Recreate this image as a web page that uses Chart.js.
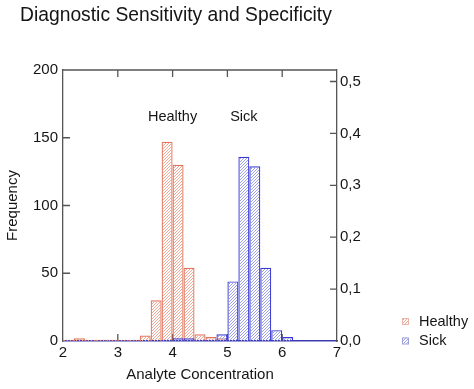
<!DOCTYPE html>
<html>
<head>
<meta charset="utf-8">
<script src="https://cdn.jsdelivr.net/npm/chart.js@4/dist/chart.umd.min.js"></script>
<style>
html,body{margin:0;padding:0;background:#fff;}
#wrap{width:474px;height:389px;position:relative;}
</style>
</head>
<body>
<div id="wrap"><canvas id="c" width="474" height="389"></canvas></div>
<script>
// ---- data ----
const chartTitle = 'Diagnostic Sensitivity and Specificity';
const xTitle = 'Analyte Concentration';
const yTitle = 'Frequency';
const seriesNames = ['Healthy', 'Sick'];
const binCenters = [2.1, 2.3, 2.5, 2.7, 2.9, 3.1, 3.3, 3.5, 3.7, 3.9, 4.1, 4.3, 4.5, 4.7, 4.9,
                    5.1, 5.3, 5.5, 5.7, 5.9, 6.1, 6.3, 6.5, 6.7, 6.9];
const healthy = [1, 2, 1, 1, 1, 1, 1, 4, 30, 147, 130, 54, 5, 3, 2,
                 0, 0, 0, 0, 0, 0, 0, 0, 0, 0];
const sick    = [0, 0, 0, 0, 0, 0, 0, 0, 0, 1, 2, 2, 1, 1, 5,
                 44, 136, 129, 54, 8, 3, 0, 0, 0, 0];
const xTicks = [2, 3, 4, 5, 6, 7];
const yTicks = [0, 50, 100, 150, 200];
const y2Ticks = [0.0, 0.1, 0.2, 0.3, 0.4, 0.5];
const groupLabels = ['Healthy', 'Sick'];
const groupLabelX = [4.0, 5.3];
const groupLabelY = [165, 165];

// ---- styling ----
const FONT = "'Liberation Sans', Arial, sans-serif";
const TXT = '#151515';
const ctx0 = document.getElementById('c').getContext('2d');
function hatch(color) {
  const c = document.createElement('canvas');
  c.width = 3; c.height = 3;
  const g = c.getContext('2d');
  g.strokeStyle = color; g.lineWidth = 1;
  g.beginPath();
  g.moveTo(0, 3); g.lineTo(3, 0);
  g.moveTo(-1, 1); g.lineTo(1, -1);
  g.moveTo(2, 4); g.lineTo(4, 2);
  g.stroke();
  return ctx0.createPattern(c, 'repeat');
}
const colors = {
  Healthy: {border: '#df735c', fill: hatch('#f0a996'), legendBorder: '#eab5a8'},
  Sick:    {border: '#3a3ad2', fill: hatch('#9da1ea'), legendBorder: '#9c9fd8'}
};
const totalHealthy = healthy.reduce((a, b) => a + b, 0);
const yMax = 200;

const toPts = arr => arr.map((v, i) => ({x: binCenters[i], y: v}));

const decor = {
  id: 'decor',
  beforeDatasetsDraw(chart) {
    const {ctx, chartArea: a, scales} = chart;
    const L = 7;
    ctx.save();
    ctx.strokeStyle = '#555';
    ctx.lineWidth = 1.3;
    ctx.beginPath();
    xTicks.forEach(v => {
      if (v <= scales.x.min || v >= scales.x.max) return;
      const p = scales.x.getPixelForValue(v);
      ctx.moveTo(p, a.bottom); ctx.lineTo(p, a.bottom - L);
      ctx.moveTo(p, a.top); ctx.lineTo(p, a.top + L);
    });
    yTicks.forEach(v => {
      if (v <= scales.y.min || v >= scales.y.max) return;
      const p = scales.y.getPixelForValue(v);
      ctx.moveTo(a.left, p); ctx.lineTo(a.left + L, p);
    });
    y2Ticks.forEach(v => {
      if (v <= scales.y2.min) return;
      const p = scales.y2.getPixelForValue(v);
      ctx.moveTo(a.right, p); ctx.lineTo(a.right - L, p);
    });
    ctx.moveTo(a.left, a.top); ctx.lineTo(a.right, a.top);
    ctx.stroke();
    ctx.restore();
  },
  afterDraw(chart) {
    const {ctx, scales} = chart;
    ctx.save();
    ctx.fillStyle = TXT;
    ctx.font = '19.3px ' + FONT;
    ctx.textAlign = 'left';
    ctx.textBaseline = 'alphabetic';
    ctx.fillText(chartTitle, 20, 21);
    ctx.font = '14.5px ' + FONT;
    ctx.textAlign = 'center';
    ctx.textBaseline = 'middle';
    groupLabels.forEach((t, i) => {
      ctx.fillText(t, scales.x.getPixelForValue(groupLabelX[i]), scales.y.getPixelForValue(groupLabelY[i]));
    });
    chart.data.datasets.slice().sort((a, b) => seriesNames.indexOf(a.label) - seriesNames.indexOf(b.label))
      .forEach((ds, i) => {
        const cy = 321 + i * 19.5;
        const col = colors[ds.label];
        ctx.fillStyle = col.fill;
        ctx.fillRect(402, cy - 3, 6, 6);
        ctx.strokeStyle = col.legendBorder;
        ctx.lineWidth = 1;
        ctx.strokeRect(402.5, cy - 2.5, 6, 6);
        ctx.fillStyle = TXT;
        ctx.textAlign = 'left';
        ctx.fillText(ds.label, 419, cy + 0.5);
      });
    ctx.restore();
  }
};

const barCommon = {barPercentage: 1, categoryPercentage: 1, grouped: false, inflateAmount: 0, borderWidth: 1.2};

new Chart(ctx0, {
  type: 'bar',
  data: {
    datasets: [
      Object.assign({label: seriesNames[0], data: toPts(healthy), order: 1,
       backgroundColor: colors.Healthy.fill, borderColor: colors.Healthy.border}, barCommon),
      Object.assign({label: seriesNames[1], data: toPts(sick), order: 0,
       backgroundColor: colors.Sick.fill, borderColor: colors.Sick.border}, barCommon)
    ]
  },
  options: {
    responsive: false,
    animation: false,
    devicePixelRatio: 1,
    layout: {padding: {top: 70, left: 0, right: 0, bottom: 0}},
    plugins: {legend: {display: false}, title: {display: false}, tooltip: {enabled: false}},
    scales: {
      x: {
        type: 'linear', position: 'bottom', min: 2, max: 7, offset: false,
        afterBuildTicks: s => { s.ticks = xTicks.map(v => ({value: v})); },
        ticks: {padding: 3, color: TXT, font: {family: FONT, size: 15}},
        grid: {display: false, drawTicks: false, offset: false},
        border: {color: '#3c3cb0', width: 1.6},
        title: {display: true, text: xTitle, color: TXT, font: {family: FONT, size: 15}, padding: {top: 0, bottom: 5}},
        afterFit: s => { s.height = 48; }
      },
      y: {
        position: 'left', min: 0, max: yMax,
        afterBuildTicks: s => { s.ticks = yTicks.map(v => ({value: v})); },
        ticks: {padding: 5, color: TXT, font: {family: FONT, size: 15}},
        grid: {display: false, drawTicks: false},
        border: {color: '#555', width: 1.3},
        title: {display: true, text: yTitle, color: TXT, font: {family: FONT, size: 15}, padding: {top: 4, bottom: 0}},
        afterFit: s => { s.width = 63; }
      },
      y2: {
        position: 'right', min: 0, max: yMax / totalHealthy,
        afterBuildTicks: s => { s.ticks = y2Ticks.map(v => ({value: v})); },
        ticks: {padding: 3, color: TXT, font: {family: FONT, size: 15},
                callback: v => v.toFixed(1).replace('.', ',')},
        grid: {display: false, drawTicks: false},
        border: {color: '#555', width: 1.3},
        afterFit: s => { s.width = 137; }
      }
    }
  },
  plugins: [decor]
});
</script>
</body>
</html>
